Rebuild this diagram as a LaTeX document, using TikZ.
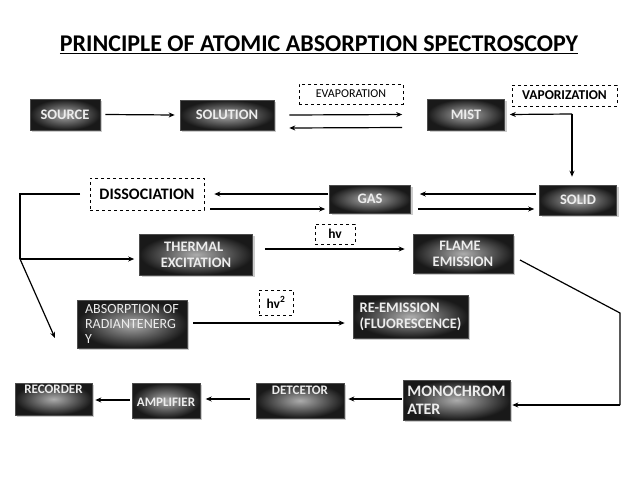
\documentclass[tikz,border=0pt]{standalone}
\usepackage{fontspec}
\setmainfont{Carlito}
\usetikzlibrary{shadows,arrows.meta,calc}
\begin{document}
\begin{tikzpicture}[x=1pt,y=-1pt,
 box/.style={draw=gray!60!black,line width=0.6pt,inner color=gray!65,outer color=black!90,
   drop shadow={shadow xshift=2pt,shadow yshift=-2pt,opacity=0.4},
   text=gray!15,font=\bfseries\fontsize{14.5}{16}\selectfont,align=left,inner sep=1pt},
 dbox/.style={draw,dashed,line width=0.6pt,fill=white,font=\bfseries\fontsize{13.5}{15}\selectfont,inner sep=1pt},
 ar/.style={-{Stealth[length=6pt,width=5pt]},line width=1.2pt},
 ln/.style={line width=1.2pt}]
\useasboundingbox (0,0) rectangle (638,479);
\node[font=\bfseries\fontsize{24}{28}\selectfont] (title) at (319,45) {\underline{PRINCIPLE OF ATOMIC ABSORPTION SPECTROSCOPY}};
% boxes
\node[box,minimum width=70,minimum height=31] (src) at (65,114.5) {SOURCE};
\node[box,minimum width=94,minimum height=30] (sol) at (227,115) {SOLUTION};
\node[box,minimum width=77,minimum height=31] (mist) at (466,114.5) {MIST};
\node[box,minimum width=77,minimum height=30] (solid) at (578,200) {SOLID};
\node[box,minimum width=81,minimum height=28] (gas) at (370,199) {GAS};
\node[box,minimum width=113,minimum height=41] (th) at (196,254.5) {\ THERMAL\\EXCITATION};
\node[box,minimum width=100,minimum height=39] (fl) at (463,253.5) {\ \ FLAME\\EMISSION};
\node[box,minimum width=110,minimum height=48,font=\fontsize{14}{15}\selectfont] (abs) at (132,324) {ABSORPTION OF\\RADIANTENERG\\Y};
\node[box,minimum width=115,minimum height=43] (re) at (410.5,316.5) {RE-EMISSION\\(FLUORESCENCE)};
\node[box,minimum width=107,minimum height=40,font=\bfseries\fontsize{16}{18}\selectfont] (mono) at (456.5,400) {MONOCHROM\\ATER};
\node[box,minimum width=88,minimum height=35,font=\bfseries\fontsize{13}{14}\selectfont] (det) at (300,400.5) {DETCETOR\\[6pt]};
\node[box,minimum width=68,minimum height=35,font=\bfseries\fontsize{13}{14}\selectfont] (amp) at (166,400.5) {\\[-2pt]AMPLIFIER};
\node[box,minimum width=77,minimum height=32,font=\bfseries\fontsize{13}{14}\selectfont] (rec) at (53.5,399) {RECORDER\\[6pt]};
% dashed
\node[dbox,minimum width=104,minimum height=20,font=\fontsize{12}{14}\selectfont] (evap) at (351,94) {EVAPORATION};
\node[dbox,minimum width=105,minimum height=21] (vap) at (564.5,95.5) {VAPORIZATION};
\node[dbox,minimum width=114,minimum height=32,font=\bfseries\fontsize{16}{18}\selectfont] (dis) at (147,194) {DISSOCIATION};
\node[dbox,minimum width=40,minimum height=20] (hv) at (335,234) {hv};
\node[dbox,minimum width=34,minimum height=25] (hv2) at (276,302.5) {hv\textsuperscript{2}};
% connectors
\draw[ar] ($(src.east)+(5,0)$) -- ($(sol.west)+(-5,0)$);
\draw[ar] ($(sol.east)+(15,0)$) -- ($(mist.west)+(-25,0)$);
\draw[ar] ($(mist.west)+(-25,13)$) -- ($(sol.east)+(15,13)$);
\coordinate (c1) at (572,114);
\draw[ar] (c1) -- ($(mist.east)+(5,0)$);
\draw[ar] (c1) -- ($(solid.north -| c1)+(0,-8)$);
\draw[ar] ($(solid.west)+(-3,-6)$) -- ($(gas.east)+(9,-5)$);
\draw[ar] ($(gas.west)+(-1,-5)$) -- ($(dis.east)+(10,0)$);
\draw[ar] ($(dis.east)+(6,15)$) -- ($(gas.west)+(-4,10)$);
\draw[ar] ($(gas.east)+(7,10)$) -- ($(solid.west)+(-5,9)$);
\coordinate (b1) at (80,194);
\coordinate (b2) at (20,194);
\coordinate (b3) at (20,259);
\draw[ln] (b1) -- (b2) -- (b3);
\draw[ar] (b3) -- ($(th.west)+(-5,4.5)$);
\draw[ar] (b3) -- (55,338);
\draw[ar] ($(th.east)+(12,-5.5)$) -- ($(fl.west)+(-8,-4.5)$);
\coordinate (m1) at (520,260);
\coordinate (m2) at (620,313);
\coordinate (m3) at (620,405);
\draw[ln] (m1) -- (m2) -- (m3);
\draw[ar] (m3) -- ($(mono.east)+(2,5)$);
\draw[ar] ($(abs.east)+(6,-1)$) -- ($(re.west)+(-8,6.5)$);
\draw[ar] ($(mono.west)+(-1,-1)$) -- ($(det.east)+(4,-1.5)$);
\draw[ar] ($(det.west)+(-6,-1.5)$) -- ($(amp.west)+(74,-1.5)$) ;
\draw[ar] ($(amp.west)+(-2,-0.5)$) -- ($(rec.east)+(3,1)$);
\end{tikzpicture}
\end{document}
